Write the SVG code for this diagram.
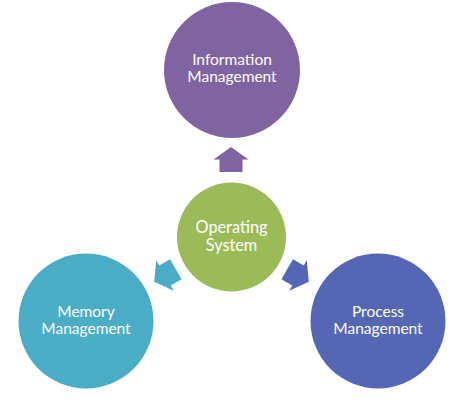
<svg xmlns="http://www.w3.org/2000/svg" width="474" height="417" viewBox="0 0 474 417">
  <defs>
    <style>
      .lbl { font-family: Lato, "Open Sans", "Liberation Sans", sans-serif; font-size: 15.5px; fill: #ffffff; text-anchor: middle; }
      .big { font-size: 16.3px; }
    </style>
    <path id="arr" d="M0,-12.5 L17.5,0 L11.5,0 L11.5,12.5 L-11.5,12.5 L-11.5,0 L-17.5,0 Z"/>
  </defs>
  <rect width="474" height="417" fill="#ffffff"/>
  <g id="connectors">
    <use href="#arr" transform="translate(231,159.5)" fill="#8064A2"/>
    <use href="#arr" transform="translate(165,275.5) rotate(-120)" fill="#4BACC6"/>
    <use href="#arr" transform="translate(298,275.5) rotate(120)" fill="#5566B4"/>
  </g>
  <g id="information">
    <circle cx="232" cy="70" r="68" fill="#8064A2"/>
    <text class="lbl" x="232" y="65">Information</text>
    <text class="lbl" x="232" y="82">Management</text>
  </g>
  <g id="os">
    <circle cx="231.5" cy="237" r="54.5" fill="#9BBB59"/>
    <text class="lbl big" x="231.5" y="233">Operating</text>
    <text class="lbl big" x="231.5" y="251">System</text>
  </g>
  <g id="memory">
    <circle cx="86" cy="321" r="67.5" fill="#4BACC6"/>
    <text class="lbl" x="86" y="317">Memory</text>
    <text class="lbl" x="86" y="334">Management</text>
  </g>
  <g id="process">
    <circle cx="378" cy="321" r="67.5" fill="#5566B4"/>
    <text class="lbl" x="378" y="317">Process</text>
    <text class="lbl" x="378" y="334">Management</text>
  </g>
</svg>
